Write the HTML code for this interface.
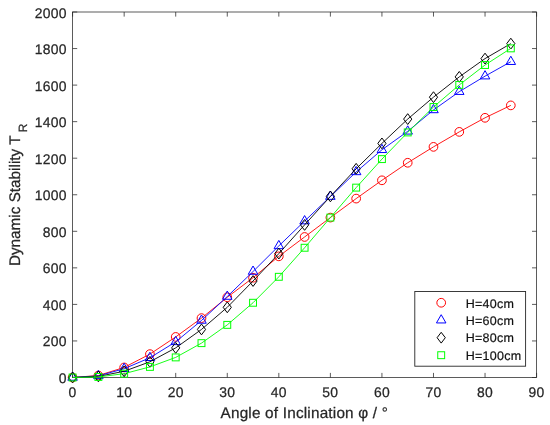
<!DOCTYPE html>
<html><head><meta charset="utf-8"><title>Dynamic Stability</title><style>html,body{margin:0;padding:0;background:#fff}body{width:550px;height:425px;overflow:hidden}</style></head><body>
<svg width="550" height="425" viewBox="0 0 550 425" style="display:block;font-family:'Liberation Sans',sans-serif;text-rendering:geometricPrecision">
<rect width="550" height="425" fill="#fff"/>
<rect x="72.6" y="12.0" width="464.0" height="365.5" fill="none" stroke="#262626" stroke-width="0.75"/>
<path d="M72.60 377.5V372.9M72.60 12.0V16.6M124.16 377.5V372.9M124.16 12.0V16.6M175.71 377.5V372.9M175.71 12.0V16.6M227.27 377.5V372.9M227.27 12.0V16.6M278.82 377.5V372.9M278.82 12.0V16.6M330.38 377.5V372.9M330.38 12.0V16.6M381.93 377.5V372.9M381.93 12.0V16.6M433.49 377.5V372.9M433.49 12.0V16.6M485.04 377.5V372.9M485.04 12.0V16.6M536.60 377.5V372.9M536.60 12.0V16.6M72.6 377.50H77.19999999999999M536.6 377.50H532.0M72.6 340.95H77.19999999999999M536.6 340.95H532.0M72.6 304.40H77.19999999999999M536.6 304.40H532.0M72.6 267.85H77.19999999999999M536.6 267.85H532.0M72.6 231.30H77.19999999999999M536.6 231.30H532.0M72.6 194.75H77.19999999999999M536.6 194.75H532.0M72.6 158.20H77.19999999999999M536.6 158.20H532.0M72.6 121.65H77.19999999999999M536.6 121.65H532.0M72.6 85.10H77.19999999999999M536.6 85.10H532.0M72.6 48.55H77.19999999999999M536.6 48.55H532.0M72.6 12.00H77.19999999999999M536.6 12.00H532.0" stroke="#262626" stroke-width="0.75" fill="none"/>
<polyline points="72.60,377.50 98.38,375.49 124.16,367.45 149.93,354.11 175.71,336.93 201.49,318.11 227.27,297.27 253.04,277.72 278.82,256.34 304.60,236.97 330.38,217.59 356.16,198.59 381.93,180.31 407.71,162.77 433.49,146.87 459.27,131.88 485.04,117.81 510.82,105.39" fill="none" stroke="#ff0000" stroke-width="0.9" stroke-linejoin="round"/>
<circle cx="72.60" cy="377.50" r="4.35" fill="none" stroke="#ff0000" stroke-width="1.0"/>
<circle cx="98.38" cy="375.49" r="4.35" fill="none" stroke="#ff0000" stroke-width="1.0"/>
<circle cx="124.16" cy="367.45" r="4.35" fill="none" stroke="#ff0000" stroke-width="1.0"/>
<circle cx="149.93" cy="354.11" r="4.35" fill="none" stroke="#ff0000" stroke-width="1.0"/>
<circle cx="175.71" cy="336.93" r="4.35" fill="none" stroke="#ff0000" stroke-width="1.0"/>
<circle cx="201.49" cy="318.11" r="4.35" fill="none" stroke="#ff0000" stroke-width="1.0"/>
<circle cx="227.27" cy="297.27" r="4.35" fill="none" stroke="#ff0000" stroke-width="1.0"/>
<circle cx="253.04" cy="277.72" r="4.35" fill="none" stroke="#ff0000" stroke-width="1.0"/>
<circle cx="278.82" cy="256.34" r="4.35" fill="none" stroke="#ff0000" stroke-width="1.0"/>
<circle cx="304.60" cy="236.97" r="4.35" fill="none" stroke="#ff0000" stroke-width="1.0"/>
<circle cx="330.38" cy="217.59" r="4.35" fill="none" stroke="#ff0000" stroke-width="1.0"/>
<circle cx="356.16" cy="198.59" r="4.35" fill="none" stroke="#ff0000" stroke-width="1.0"/>
<circle cx="381.93" cy="180.31" r="4.35" fill="none" stroke="#ff0000" stroke-width="1.0"/>
<circle cx="407.71" cy="162.77" r="4.35" fill="none" stroke="#ff0000" stroke-width="1.0"/>
<circle cx="433.49" cy="146.87" r="4.35" fill="none" stroke="#ff0000" stroke-width="1.0"/>
<circle cx="459.27" cy="131.88" r="4.35" fill="none" stroke="#ff0000" stroke-width="1.0"/>
<circle cx="485.04" cy="117.81" r="4.35" fill="none" stroke="#ff0000" stroke-width="1.0"/>
<circle cx="510.82" cy="105.39" r="4.35" fill="none" stroke="#ff0000" stroke-width="1.0"/>
<polyline points="72.60,377.50 98.38,375.86 124.16,368.73 149.93,357.76 175.71,341.86 201.49,320.48 227.27,296.54 253.04,271.50 278.82,245.92 304.60,221.07 330.38,196.58 356.16,171.91 381.93,149.79 407.71,131.34 433.49,109.95 459.27,91.68 485.04,76.15 510.82,61.71" fill="none" stroke="#0000ff" stroke-width="0.9" stroke-linejoin="round"/>
<path d="M72.60 372.00L77.36 380.25L67.84 380.25Z" fill="none" stroke="#0000ff" stroke-width="1.0"/>
<path d="M98.38 370.36L103.14 378.61L93.62 378.61Z" fill="none" stroke="#0000ff" stroke-width="1.0"/>
<path d="M124.16 363.23L128.92 371.48L119.40 371.48Z" fill="none" stroke="#0000ff" stroke-width="1.0"/>
<path d="M149.93 352.26L154.69 360.51L145.17 360.51Z" fill="none" stroke="#0000ff" stroke-width="1.0"/>
<path d="M175.71 336.36L180.47 344.61L170.95 344.61Z" fill="none" stroke="#0000ff" stroke-width="1.0"/>
<path d="M201.49 314.98L206.25 323.23L196.73 323.23Z" fill="none" stroke="#0000ff" stroke-width="1.0"/>
<path d="M227.27 291.04L232.03 299.29L222.51 299.29Z" fill="none" stroke="#0000ff" stroke-width="1.0"/>
<path d="M253.04 266.00L257.80 274.25L248.28 274.25Z" fill="none" stroke="#0000ff" stroke-width="1.0"/>
<path d="M278.82 240.42L283.58 248.67L274.06 248.67Z" fill="none" stroke="#0000ff" stroke-width="1.0"/>
<path d="M304.60 215.57L309.36 223.82L299.84 223.82Z" fill="none" stroke="#0000ff" stroke-width="1.0"/>
<path d="M330.38 191.08L335.14 199.33L325.62 199.33Z" fill="none" stroke="#0000ff" stroke-width="1.0"/>
<path d="M356.16 166.41L360.92 174.66L351.40 174.66Z" fill="none" stroke="#0000ff" stroke-width="1.0"/>
<path d="M381.93 144.29L386.69 152.54L377.17 152.54Z" fill="none" stroke="#0000ff" stroke-width="1.0"/>
<path d="M407.71 125.84L412.47 134.09L402.95 134.09Z" fill="none" stroke="#0000ff" stroke-width="1.0"/>
<path d="M433.49 104.45L438.25 112.70L428.73 112.70Z" fill="none" stroke="#0000ff" stroke-width="1.0"/>
<path d="M459.27 86.18L464.03 94.43L454.51 94.43Z" fill="none" stroke="#0000ff" stroke-width="1.0"/>
<path d="M485.04 70.65L489.80 78.90L480.28 78.90Z" fill="none" stroke="#0000ff" stroke-width="1.0"/>
<path d="M510.82 56.21L515.58 64.46L506.06 64.46Z" fill="none" stroke="#0000ff" stroke-width="1.0"/>
<polyline points="72.60,377.50 98.38,376.40 124.16,371.29 149.93,361.78 175.71,347.89 201.49,329.44 227.27,307.32 253.04,281.01 278.82,253.60 304.60,224.90 330.38,196.39 356.16,168.80 381.93,143.40 407.71,119.09 433.49,97.16 459.27,76.88 485.04,58.60 510.82,43.62" fill="none" stroke="#000000" stroke-width="0.9" stroke-linejoin="round"/>
<path d="M72.60 372.10L76.70 377.50L72.60 382.90L68.50 377.50Z" fill="none" stroke="#000000" stroke-width="1.0"/>
<path d="M98.38 371.00L102.48 376.40L98.38 381.80L94.28 376.40Z" fill="none" stroke="#000000" stroke-width="1.0"/>
<path d="M124.16 365.89L128.26 371.29L124.16 376.69L120.06 371.29Z" fill="none" stroke="#000000" stroke-width="1.0"/>
<path d="M149.93 356.38L154.03 361.78L149.93 367.18L145.83 361.78Z" fill="none" stroke="#000000" stroke-width="1.0"/>
<path d="M175.71 342.49L179.81 347.89L175.71 353.29L171.61 347.89Z" fill="none" stroke="#000000" stroke-width="1.0"/>
<path d="M201.49 324.04L205.59 329.44L201.49 334.84L197.39 329.44Z" fill="none" stroke="#000000" stroke-width="1.0"/>
<path d="M227.27 301.92L231.37 307.32L227.27 312.72L223.17 307.32Z" fill="none" stroke="#000000" stroke-width="1.0"/>
<path d="M253.04 275.61L257.14 281.01L253.04 286.41L248.94 281.01Z" fill="none" stroke="#000000" stroke-width="1.0"/>
<path d="M278.82 248.20L282.92 253.60L278.82 259.00L274.72 253.60Z" fill="none" stroke="#000000" stroke-width="1.0"/>
<path d="M304.60 219.50L308.70 224.90L304.60 230.30L300.50 224.90Z" fill="none" stroke="#000000" stroke-width="1.0"/>
<path d="M330.38 190.99L334.48 196.39L330.38 201.79L326.28 196.39Z" fill="none" stroke="#000000" stroke-width="1.0"/>
<path d="M356.16 163.40L360.26 168.80L356.16 174.20L352.06 168.80Z" fill="none" stroke="#000000" stroke-width="1.0"/>
<path d="M381.93 138.00L386.03 143.40L381.93 148.80L377.83 143.40Z" fill="none" stroke="#000000" stroke-width="1.0"/>
<path d="M407.71 113.69L411.81 119.09L407.71 124.49L403.61 119.09Z" fill="none" stroke="#000000" stroke-width="1.0"/>
<path d="M433.49 91.76L437.59 97.16L433.49 102.56L429.39 97.16Z" fill="none" stroke="#000000" stroke-width="1.0"/>
<path d="M459.27 71.48L463.37 76.88L459.27 82.28L455.17 76.88Z" fill="none" stroke="#000000" stroke-width="1.0"/>
<path d="M485.04 53.20L489.14 58.60L485.04 64.00L480.94 58.60Z" fill="none" stroke="#000000" stroke-width="1.0"/>
<path d="M510.82 38.22L514.92 43.62L510.82 49.02L506.72 43.62Z" fill="none" stroke="#000000" stroke-width="1.0"/>
<polyline points="72.60,377.50 98.38,376.95 124.16,373.66 149.93,366.90 175.71,357.40 201.49,343.14 227.27,324.87 253.04,302.76 278.82,276.80 304.60,247.75 330.38,217.59 356.16,187.62 381.93,159.11 407.71,132.43 433.49,107.03 459.27,84.92 485.04,65.00 510.82,48.37" fill="none" stroke="#00ff00" stroke-width="0.9" stroke-linejoin="round"/>
<rect x="69.15" y="374.05" width="6.90" height="6.90" fill="none" stroke="#00ff00" stroke-width="1.0"/>
<rect x="94.93" y="373.50" width="6.90" height="6.90" fill="none" stroke="#00ff00" stroke-width="1.0"/>
<rect x="120.71" y="370.21" width="6.90" height="6.90" fill="none" stroke="#00ff00" stroke-width="1.0"/>
<rect x="146.48" y="363.45" width="6.90" height="6.90" fill="none" stroke="#00ff00" stroke-width="1.0"/>
<rect x="172.26" y="353.95" width="6.90" height="6.90" fill="none" stroke="#00ff00" stroke-width="1.0"/>
<rect x="198.04" y="339.69" width="6.90" height="6.90" fill="none" stroke="#00ff00" stroke-width="1.0"/>
<rect x="223.82" y="321.42" width="6.90" height="6.90" fill="none" stroke="#00ff00" stroke-width="1.0"/>
<rect x="249.59" y="299.31" width="6.90" height="6.90" fill="none" stroke="#00ff00" stroke-width="1.0"/>
<rect x="275.37" y="273.35" width="6.90" height="6.90" fill="none" stroke="#00ff00" stroke-width="1.0"/>
<rect x="301.15" y="244.30" width="6.90" height="6.90" fill="none" stroke="#00ff00" stroke-width="1.0"/>
<rect x="326.93" y="214.14" width="6.90" height="6.90" fill="none" stroke="#00ff00" stroke-width="1.0"/>
<rect x="352.71" y="184.17" width="6.90" height="6.90" fill="none" stroke="#00ff00" stroke-width="1.0"/>
<rect x="378.48" y="155.66" width="6.90" height="6.90" fill="none" stroke="#00ff00" stroke-width="1.0"/>
<rect x="404.26" y="128.98" width="6.90" height="6.90" fill="none" stroke="#00ff00" stroke-width="1.0"/>
<rect x="430.04" y="103.58" width="6.90" height="6.90" fill="none" stroke="#00ff00" stroke-width="1.0"/>
<rect x="455.82" y="81.47" width="6.90" height="6.90" fill="none" stroke="#00ff00" stroke-width="1.0"/>
<rect x="481.59" y="61.55" width="6.90" height="6.90" fill="none" stroke="#00ff00" stroke-width="1.0"/>
<rect x="507.37" y="44.92" width="6.90" height="6.90" fill="none" stroke="#00ff00" stroke-width="1.0"/>
<g font-size="13.9px" fill="#262626" stroke="#262626" stroke-width="0.25" letter-spacing="0.3">
<text x="72.60" y="397.2" text-anchor="middle">0</text>
<text x="124.16" y="397.2" text-anchor="middle">10</text>
<text x="175.71" y="397.2" text-anchor="middle">20</text>
<text x="227.27" y="397.2" text-anchor="middle">30</text>
<text x="278.82" y="397.2" text-anchor="middle">40</text>
<text x="330.38" y="397.2" text-anchor="middle">50</text>
<text x="381.93" y="397.2" text-anchor="middle">60</text>
<text x="433.49" y="397.2" text-anchor="middle">70</text>
<text x="485.04" y="397.2" text-anchor="middle">80</text>
<text x="536.60" y="397.2" text-anchor="middle">90</text>
<text x="66.9" y="383.00" text-anchor="end">0</text>
<text x="66.9" y="346.45" text-anchor="end">200</text>
<text x="66.9" y="309.90" text-anchor="end">400</text>
<text x="66.9" y="273.35" text-anchor="end">600</text>
<text x="66.9" y="236.80" text-anchor="end">800</text>
<text x="66.9" y="200.25" text-anchor="end">1000</text>
<text x="66.9" y="163.70" text-anchor="end">1200</text>
<text x="66.9" y="127.15" text-anchor="end">1400</text>
<text x="66.9" y="90.60" text-anchor="end">1600</text>
<text x="66.9" y="54.05" text-anchor="end">1800</text>
<text x="66.9" y="17.50" text-anchor="end">2000</text>
</g>
<text x="304.3" y="417.8" font-size="15.3px" fill="#262626" stroke="#262626" stroke-width="0.25" text-anchor="middle" letter-spacing="0.2">Angle of Inclination φ / °</text>
<text transform="translate(19.6 266.1) rotate(-90)" font-size="15.3px" fill="#262626" stroke="#262626" stroke-width="0.25">Dynamic Stability T<tspan font-size="12px" dy="7.3" dx="3.3">R</tspan></text>
<rect x="414.8" y="291.5" width="110.8" height="74.7" fill="#fff" stroke="#262626" stroke-width="0.9"/>
<g font-size="12.5px" fill="#111" letter-spacing="0.25">
<circle cx="441.20" cy="302.75" r="4.35" fill="none" stroke="#ff0000" stroke-width="1.0"/>
<text x="465.8" y="307.50" stroke="#111" stroke-width="0.2">H=40cm</text>
<path d="M441.20 314.70L445.96 322.95L436.44 322.95Z" fill="none" stroke="#0000ff" stroke-width="1.0"/>
<text x="465.8" y="324.95" stroke="#111" stroke-width="0.2">H=60cm</text>
<path d="M441.20 332.30L445.30 337.70L441.20 343.10L437.10 337.70Z" fill="none" stroke="#000000" stroke-width="1.0"/>
<text x="465.8" y="342.45" stroke="#111" stroke-width="0.2">H=80cm</text>
<rect x="437.75" y="351.75" width="6.90" height="6.90" fill="none" stroke="#00ff00" stroke-width="1.0"/>
<text x="465.8" y="359.95" stroke="#111" stroke-width="0.2">H=100cm</text>
</g>
</svg>
</body></html>
